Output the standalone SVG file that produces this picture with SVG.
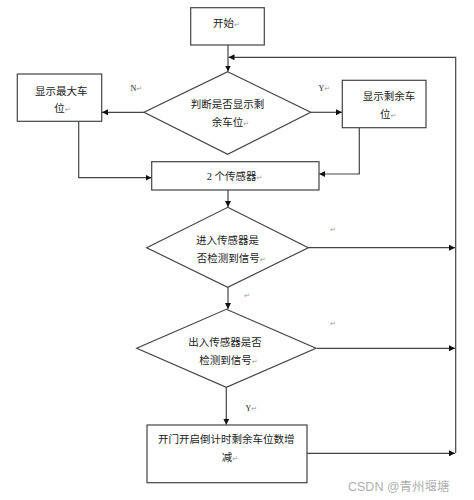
<svg xmlns="http://www.w3.org/2000/svg" width="474" height="500" viewBox="0 0 474 500">
<style>
.box{fill:#fff;stroke:#444;stroke-width:1.2}
.ln{fill:none;stroke:#444;stroke-width:1.2}
.t{font-family:"Liberation Serif","Noto Sans CJK SC",serif;font-size:10.5px;fill:#222}
.r{fill:#999;font-family:"DejaVu Sans",sans-serif;font-size:7px}
.lbl{font-family:"Liberation Serif",serif;font-size:8px;fill:#222}
.wm{font-family:"Liberation Sans","Noto Sans CJK SC",sans-serif;font-size:12.5px;fill:#b0b0b0}
</style>
<defs>
<marker id="ar" viewBox="0 0 10 10" refX="10" refY="5" markerWidth="6" markerHeight="6" orient="auto" markerUnits="userSpaceOnUse">
<path d="M0,0 L10,5 L0,10 z" fill="#111"/>
</marker>
</defs>
<rect width="474" height="500" fill="#fff"/>
<g id="connectors">
<path class="ln" d="M228,45 V71.5" marker-end="url(#ar)"/>
<path class="ln" d="M455.7,453 V57.3 H228.5" marker-end="url(#ar)"/>
<path class="ln" d="M144,112.3 H102" marker-end="url(#ar)"/>
<path class="ln" d="M310.7,112.3 H342" marker-end="url(#ar)"/>
<path class="ln" d="M78.7,121.3 V177.7 H151.5" marker-end="url(#ar)"/>
<path class="ln" d="M359.3,127.7 V174 H319.2" marker-end="url(#ar)"/>
<path class="ln" d="M228,190 V207" marker-end="url(#ar)"/>
<path class="ln" d="M308.3,247.7 H455" marker-end="url(#ar)"/>
<path class="ln" d="M228,287.3 V309" marker-end="url(#ar)"/>
<path class="ln" d="M317,348.3 H455" marker-end="url(#ar)"/>
<path class="ln" d="M226.3,387.3 V424.8" marker-end="url(#ar)"/>
<path class="ln" d="M307,453.3 H455" marker-end="url(#ar)"/>
</g>
<g id="start">
<rect class="box" x="190.7" y="7.7" width="73.6" height="37.3"/>
<text class="t" x="213" y="27.3">开始<tspan class="r">↵</tspan></text>
</g>
<g id="judge">
<polygon class="box" points="227.7,71.7 310.7,112.3 227.7,154.3 144,112.3"/>
<text class="t" x="190.7" y="108.3">判断是否显示剩</text>
<text class="t" x="211.7" y="125.7">余车位<tspan class="r">↵</tspan></text>
</g>
<g id="label-N"><text class="lbl" x="130.5" y="91">N<tspan class="r">↵</tspan></text></g>
<g id="label-Y1"><text class="lbl" x="318.5" y="91">Y<tspan class="r">↵</tspan></text></g>
<g id="maxbox">
<rect class="box" x="17.3" y="74" width="84.4" height="47.3"/>
<text class="t" x="35" y="94.7">显示最大车</text>
<text class="t" x="54.3" y="112.3">位<tspan class="r">↵</tspan></text>
</g>
<g id="remainbox">
<rect class="box" x="342.3" y="80.3" width="83.7" height="47.4"/>
<text class="t" x="362.7" y="100">显示剩余车</text>
<text class="t" x="380" y="118">位<tspan class="r">↵</tspan></text>
</g>
<g id="sensors">
<rect class="box" x="151.7" y="161.7" width="167.3" height="28.3"/>
<text class="t" x="206.7" y="179.7">2 个传感器<tspan class="r">↵</tspan></text>
</g>
<g id="enter">
<polygon class="box" points="227.7,207.3 308.3,247.7 227.7,287.3 146.7,247.7"/>
<text class="t" x="196" y="244">进入传感器是</text>
<text class="t" x="196.7" y="262">否检测到信号<tspan class="r">↵</tspan></text>
</g>
<g id="exit">
<polygon class="box" points="226.3,309.3 316,348.3 226.3,387.3 136.7,348.3"/>
<text class="t" x="188.3" y="345.7">出入传感器是否</text>
<text class="t" x="199.3" y="364">检测到信号<tspan class="r">↵</tspan></text>
</g>
<g id="label-Y2"><text class="lbl" x="245.5" y="411">Y<tspan class="r">↵</tspan></text></g>
<g id="marks">
<text class="r" x="330" y="232">↵</text>
<text class="r" x="244" y="298">↵</text>
<text class="r" x="330" y="326">↵</text>
</g>
<g id="open">
<rect class="box" x="147" y="425" width="160" height="57.7"/>
<text class="t" x="158" y="443.3">开门开启倒计时剩余车位数增</text>
<text class="t" x="221.7" y="460.7">减<tspan class="r">↵</tspan></text>
</g>
<text class="wm" x="348" y="491">CSDN @青州堰塘</text>
</svg>
